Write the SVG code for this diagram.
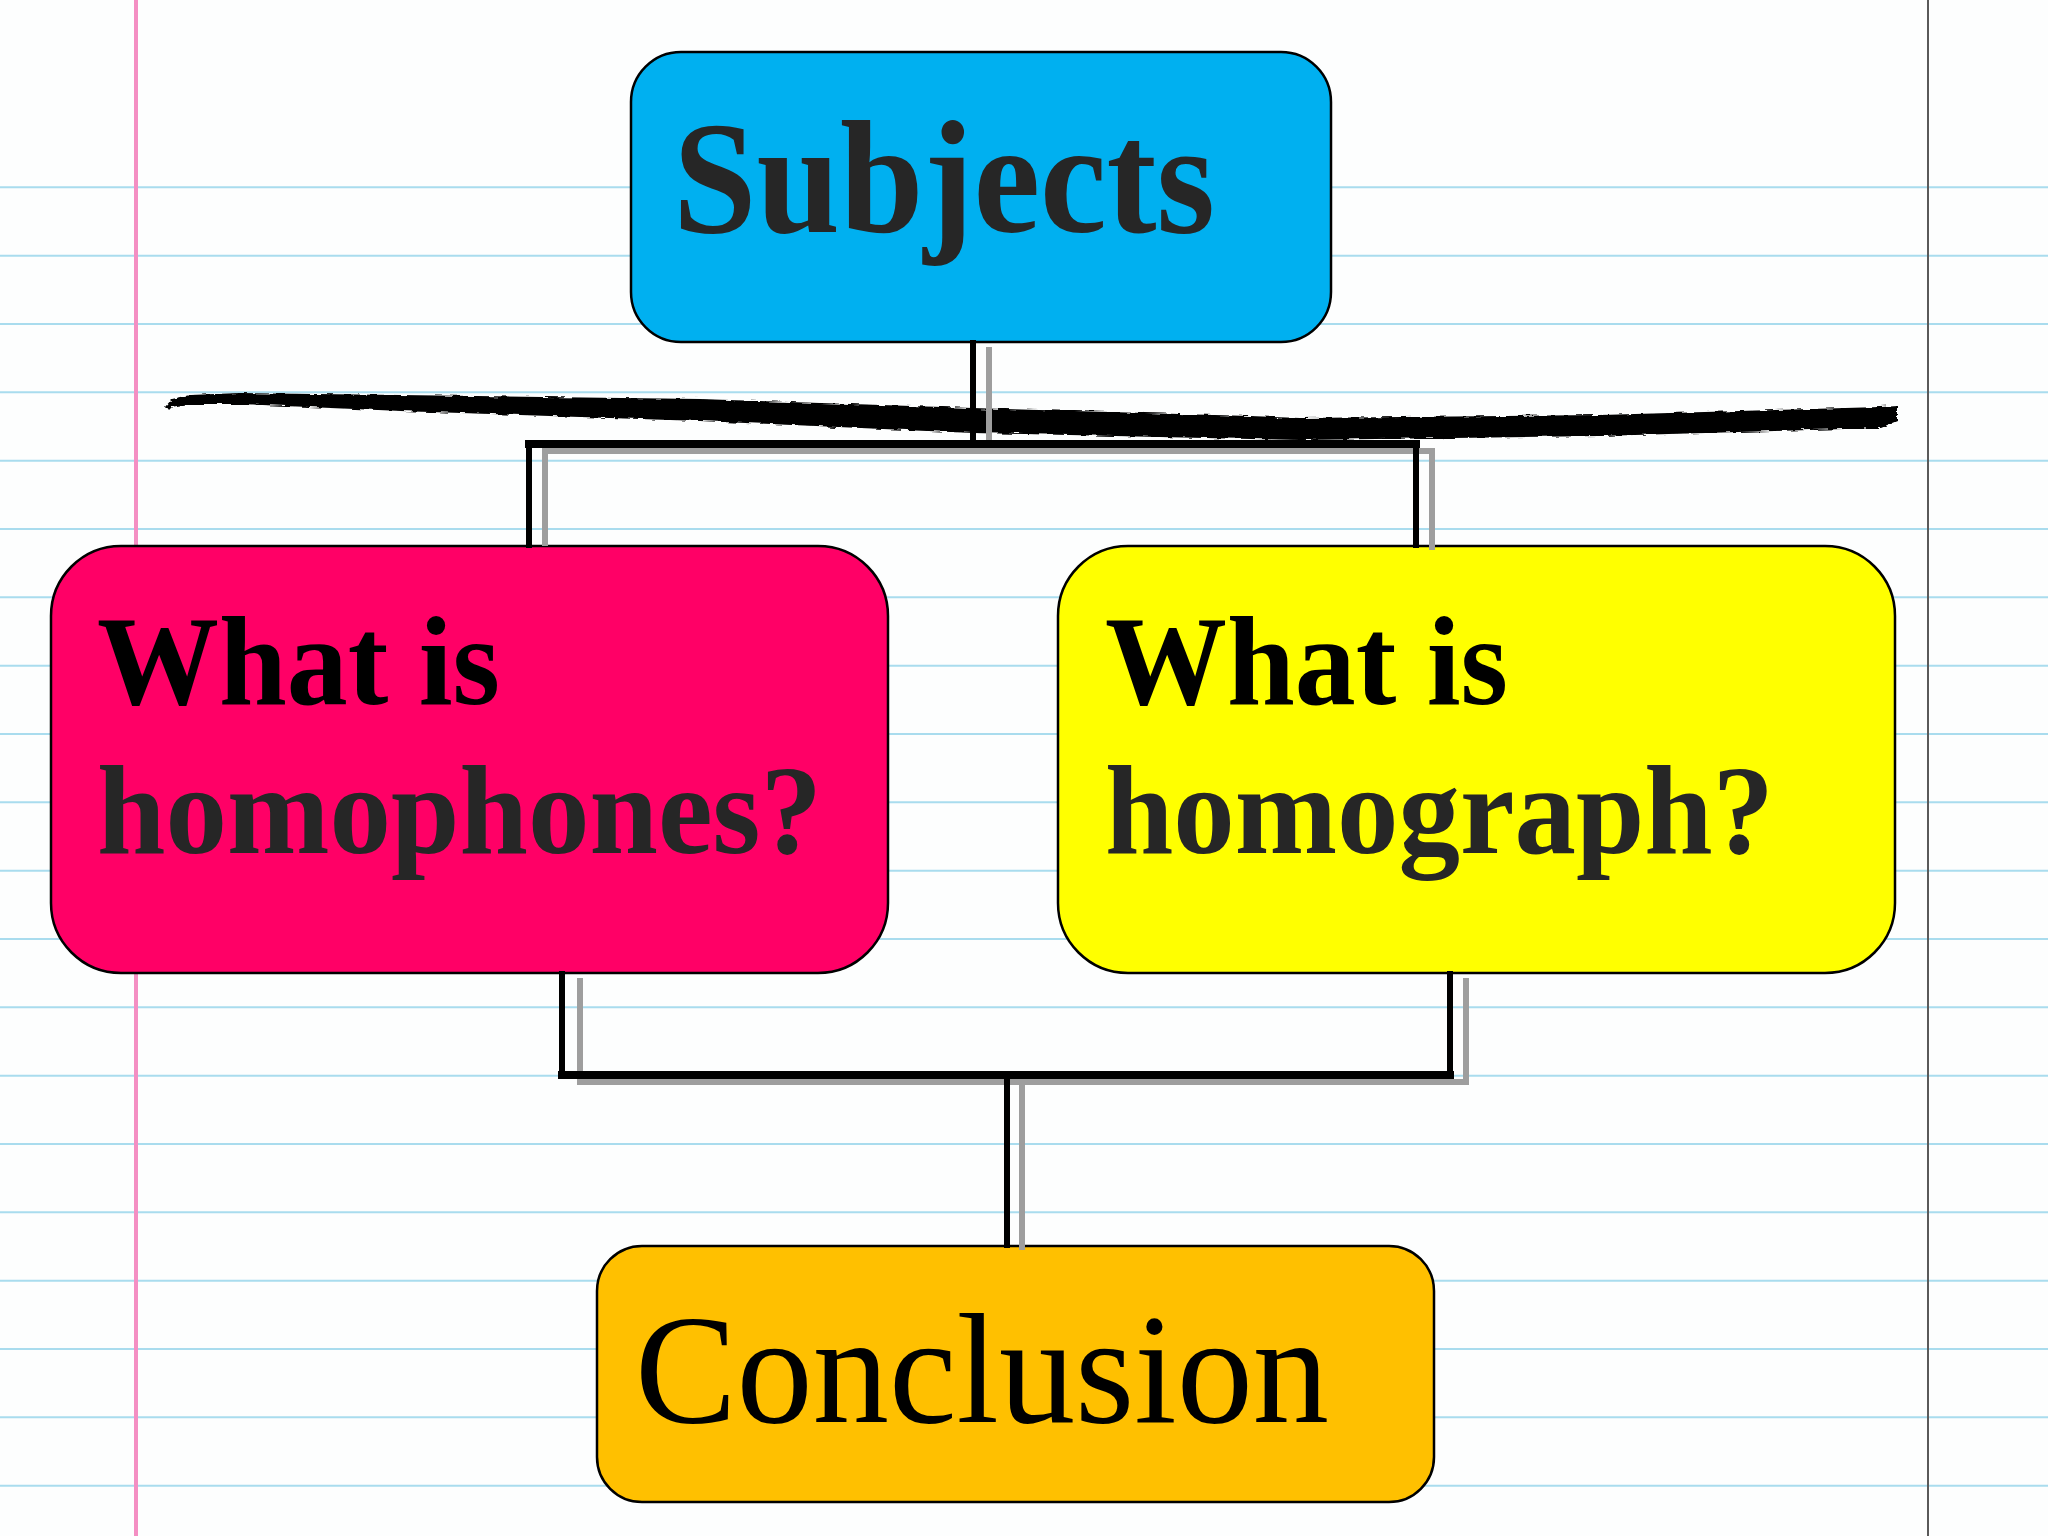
<svg xmlns="http://www.w3.org/2000/svg" width="2048" height="1536" viewBox="0 0 2048 1536">
<defs>
<style>
.rule{stroke:#a9dcee;stroke-width:2}
.box{stroke:#000;stroke-width:2.5}
.blk{fill:none;stroke:#000;stroke-linecap:square}
.v{stroke-width:6}
.h{stroke-width:8}
.shd{fill:none;stroke:#9e9e9e;stroke-width:6}
.lbl{font-family:"Liberation Serif","Times New Roman",serif;font-weight:bold;font-size:127px}
.dark{fill:#262626}
.black{fill:#000}
</style>
<filter id="rough" x="-5%" y="-50%" width="110%" height="200%">
<feTurbulence type="fractalNoise" baseFrequency="0.08 0.5" numOctaves="2" seed="3" result="n"/>
<feDisplacementMap in="SourceGraphic" in2="n" scale="5" xChannelSelector="R" yChannelSelector="G"/>
</filter>
</defs>
<rect width="2048" height="1536" fill="#fdfefe"/>
<g id="paper">
<line class="rule" x1="0" y1="187.3" x2="2048" y2="187.3"/>
<line class="rule" x1="0" y1="255.7" x2="2048" y2="255.7"/>
<line class="rule" x1="0" y1="324" x2="2048" y2="324"/>
<line class="rule" x1="0" y1="392.3" x2="2048" y2="392.3"/>
<line class="rule" x1="0" y1="460.7" x2="2048" y2="460.7"/>
<line class="rule" x1="0" y1="529" x2="2048" y2="529"/>
<line class="rule" x1="0" y1="597.3" x2="2048" y2="597.3"/>
<line class="rule" x1="0" y1="665.7" x2="2048" y2="665.7"/>
<line class="rule" x1="0" y1="734" x2="2048" y2="734"/>
<line class="rule" x1="0" y1="802.3" x2="2048" y2="802.3"/>
<line class="rule" x1="0" y1="870.7" x2="2048" y2="870.7"/>
<line class="rule" x1="0" y1="939" x2="2048" y2="939"/>
<line class="rule" x1="0" y1="1007.3" x2="2048" y2="1007.3"/>
<line class="rule" x1="0" y1="1075.7" x2="2048" y2="1075.7"/>
<line class="rule" x1="0" y1="1144" x2="2048" y2="1144"/>
<line class="rule" x1="0" y1="1212.3" x2="2048" y2="1212.3"/>
<line class="rule" x1="0" y1="1280.7" x2="2048" y2="1280.7"/>
<line class="rule" x1="0" y1="1349" x2="2048" y2="1349"/>
<line class="rule" x1="0" y1="1417.3" x2="2048" y2="1417.3"/>
<line class="rule" x1="0" y1="1485.7" x2="2048" y2="1485.7"/>
<line x1="136" y1="0" x2="136" y2="1536" stroke="#f48fc3" stroke-width="4"/>
<line x1="1928" y1="0" x2="1928" y2="1536" stroke="#5a5a5a" stroke-width="2"/>
</g>
<g id="scribble">
<path filter="url(#rough)" fill="#000" d="M165,407 L172,399 L190,395 L240,393 L400,395 L700,399 L973,408 L1250,416 L1300,418 L1600,415 L1880,407 L1897,406 L1897,421 L1880,428 L1600,436 L1300,440 L1250,439 L973,433 L700,421 L400,411 L240,404 L190,404 L172,407 L168,411 Z"/>
</g>
<g id="node-subjects">
<rect class="box" x="631" y="52" width="700" height="290" rx="50" fill="#00b0f0"/>
<text class="lbl dark" x="673" y="232" style="font-size:160px" textLength="542" lengthAdjust="spacingAndGlyphs">Subjects</text>
</g>
<g id="node-homophones">
<rect class="box" x="51" y="546" width="837" height="427" rx="70" fill="#ff0066"/>
<text class="lbl black" x="97" y="704" textLength="403" lengthAdjust="spacingAndGlyphs">What is</text>
<text class="lbl dark" x="97" y="853" textLength="725" lengthAdjust="spacingAndGlyphs">homophones?</text>
</g>
<g id="node-homograph">
<rect class="box" x="1058" y="546" width="837" height="427" rx="70" fill="#ffff00"/>
<text class="lbl black" x="1105" y="704" textLength="403" lengthAdjust="spacingAndGlyphs">What is</text>
<text class="lbl dark" x="1105" y="853" textLength="669" lengthAdjust="spacingAndGlyphs">homograph?</text>
</g>
<g id="node-conclusion">
<rect class="box" x="597" y="1246" width="837" height="256" rx="45" fill="#ffc000"/>
<text x="635" y="1422" font-family="Liberation Serif, Times New Roman, serif" font-size="157" fill="#000" textLength="694" lengthAdjust="spacingAndGlyphs">Conclusion</text>
</g>
<g id="connectors">
<path class="shd" d="M989,347 V451 M545,546 V451 H1432 V550"/>
<path class="shd" d="M580,978 V1082 H1466 V978 M1022,1082 V1250"/>
<path class="blk v" d="M973,343 V444 M529,545 V444 M1416,545 V444"/>
<path class="blk h" d="M529,444 H1416"/>
<path class="blk v" d="M562,974 V1075 M1450,974 V1075 M1007,1075 V1245"/>
<path class="blk h" d="M562,1075 H1450"/>
</g>
</svg>
